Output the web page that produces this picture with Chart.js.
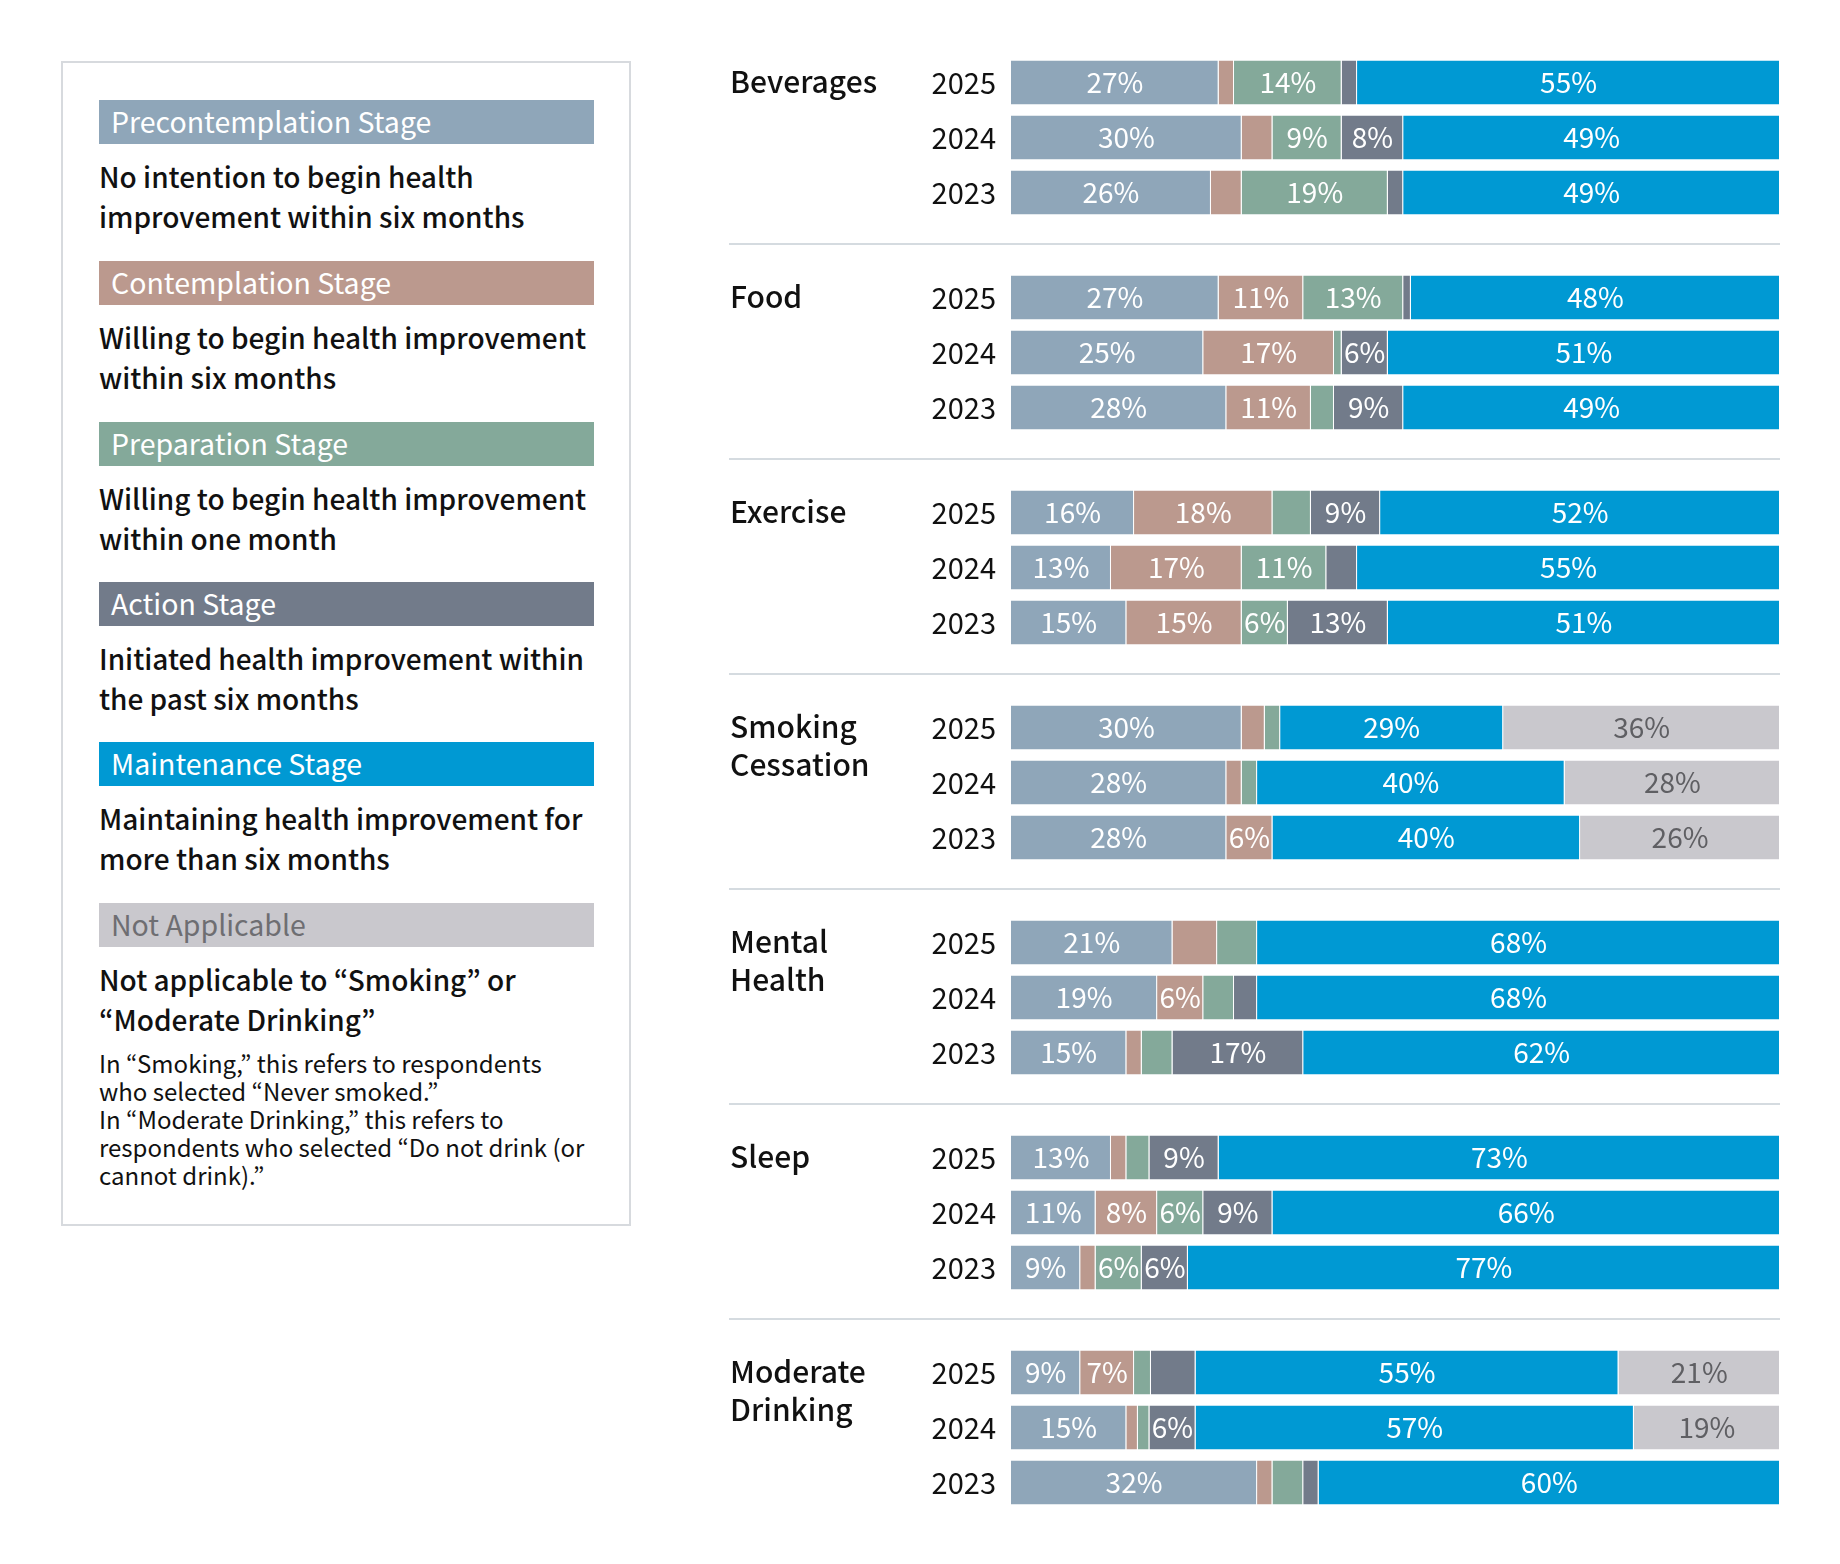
<!DOCTYPE html>
<html>
<head>
<meta charset="utf-8">
<script src="https://cdn.jsdelivr.net/npm/chart.js@4.4.1/dist/chart.umd.min.js"></script>
<style>
  html, body { margin: 0; padding: 0; background: #fff; }
  body { width: 1840px; height: 1564px; position: relative; overflow: hidden;
         font-family: "Noto Sans CJK JP", "Noto Sans", sans-serif; color: #111; }
  #legendBox { position: absolute; left: 61px; top: 61px; width: 570px; height: 1165px;
               border: 2px solid #d7dade; box-sizing: border-box; }
  .hdr { position: absolute; left: 99px; width: 495px; height: 44px; line-height: 42px;
         padding-left: 12px; box-sizing: border-box; font-size: 28.5px; color: #fff; white-space: nowrap; }
  .desc { position: absolute; left: 99px; width: 520px; font-size: 28px; line-height: 40px;
          font-weight: 500; color: #111; }
  .note { position: absolute; left: 99px; width: 520px; font-size: 24px; line-height: 28px; color: #111; }
  .cat { position: absolute; left: 730px; font-size: 30px; line-height: 38px; font-weight: 500; color: #111; }
  .sep { position: absolute; left: 729px; width: 1051px; height: 2px; background: #d5dbe0; }
  .wrap { position: absolute; left: 740px; width: 1040px; height: 165px; }
</style>
</head>
<body>
<div id="legendBox"></div>

<div class="hdr" style="top:100px;background:#8fa6b9">Precontemplation Stage</div>
<div class="desc" style="top:156px">No intention to begin health<br>improvement within six months</div>

<div class="hdr" style="top:261px;background:#bb998e">Contemplation Stage</div>
<div class="desc" style="top:317px">Willing to begin health improvement<br>within six months</div>

<div class="hdr" style="top:422px;background:#84a99a">Preparation Stage</div>
<div class="desc" style="top:478px">Willing to begin health improvement<br>within one month</div>

<div class="hdr" style="top:582px;background:#727b8a">Action Stage</div>
<div class="desc" style="top:638px">Initiated health improvement within<br>the past six months</div>

<div class="hdr" style="top:742px;background:#0099d3">Maintenance Stage</div>
<div class="desc" style="top:798px">Maintaining health improvement for<br>more than six months</div>

<div class="hdr" style="top:903px;background:#c9c8cd;color:#6e6e72">Not Applicable</div>
<div class="desc" style="top:959px">Not applicable to “Smoking” or<br>“Moderate Drinking”</div>
<div class="note" style="top:1049px">In “Smoking,” this refers to respondents<br>who selected “Never smoked.”<br>In “Moderate Drinking,” this refers to<br>respondents who selected “Do not drink (or<br>cannot drink).”</div>

<div id="charts"></div>

<script>
const categories = ['Beverages', 'Food', 'Exercise', 'Smoking\nCessation', 'Mental\nHealth', 'Sleep', 'Moderate\nDrinking'];
const years = ['2025', '2024', '2023'];
const stages = ['Precontemplation', 'Contemplation', 'Preparation', 'Action', 'Maintenance', 'Not Applicable'];
const colors = ['#8fa6b9', '#bb998e', '#84a99a', '#727b8a', '#0099d3', '#c9c8cd'];

// one row per category, values for 2025, 2024, 2023
const precontemplation = [[27, 30, 26], [27, 25, 28], [16, 13, 15], [30, 28, 28], [21, 19, 15], [13, 11, 9], [9, 15, 32]];
const contemplation    = [[2, 4, 4], [11, 17, 11], [18, 17, 15], [3, 2, 6], [5.8, 6, 2], [2, 8, 2], [7, 1.5, 2]];
const preparation      = [[14, 9, 19], [13, 1, 3], [5, 11, 6], [2, 2, 0], [5.2, 4, 4], [3, 6, 6], [2.2, 1.5, 4]];
const action           = [[2, 8, 2], [1, 6, 9], [9, 4, 13], [0, 0, 0], [0, 3, 17], [9, 9, 6], [5.8, 6, 2]];
const maintenance      = [[55, 49, 49], [48, 51, 49], [52, 55, 51], [29, 40, 40], [68, 68, 62], [73, 66, 77], [55, 57, 60]];
const notApplicable    = [[0, 0, 0], [0, 0, 0], [0, 0, 0], [36, 28, 26], [0, 0, 0], [0, 0, 0], [21, 19, 0]];

const series = [precontemplation, contemplation, preparation, action, maintenance, notApplicable];

const FONT = '"Noto Sans CJK JP", "Noto Sans", sans-serif';
Chart.defaults.font.family = FONT;

// percentage text inside each segment (small ones are left blank)
const barLabels = {
    id: 'barLabels',
    afterDatasetsDraw(chart) {
        const { ctx } = chart;
        ctx.save();
        ctx.font = '28px ' + FONT;
        ctx.textAlign = 'center';
        ctx.textBaseline = 'middle';
        chart.data.datasets.forEach((ds, i) => {
            const meta = chart.getDatasetMeta(i);
            meta.data.forEach((bar, j) => {
                const v = ds.data[j];
                if (!v || v < 6) return;
                const { x, y, base } = bar.getProps(['x', 'y', 'base'], true);
                ctx.fillStyle = i === 5 ? '#5f5f63' : '#fff';
                ctx.fillText(Math.round(v) + '%', (x + base) / 2, y);
            });
        });
        ctx.restore();
    }
};

const holder = document.getElementById('charts');

categories.forEach((cat, g) => {
    const top = 55 + 215 * g;

    const label = document.createElement('div');
    label.className = 'cat';
    label.style.top = (61 + 215 * g) + 'px';
    label.innerHTML = cat.replace('\n', '<br>');
    document.body.appendChild(label);

    if (g < categories.length - 1) {
        const sep = document.createElement('div');
        sep.className = 'sep';
        sep.style.top = (243 + 215 * g) + 'px';
        document.body.appendChild(sep);
    }

    const wrap = document.createElement('div');
    wrap.className = 'wrap';
    wrap.style.top = top + 'px';
    const cv = document.createElement('canvas');
    cv.width = 1040;
    cv.height = 165;
    wrap.appendChild(cv);
    holder.appendChild(wrap);

    new Chart(cv, {
        type: 'bar',
        data: {
            labels: years,
            datasets: stages.map((s, i) => ({
                label: s,
                data: series[i][g].map(v => v || null),
                backgroundColor: colors[i],
                borderColor: 'rgba(255,255,255,0.75)',
                borderWidth: { top: 0, bottom: 0, left: 0, right: 1 },
                borderSkipped: false,
                barPercentage: 0.8,
                categoryPercentage: 1
            }))
        },
        options: {
            indexAxis: 'y',
            responsive: false,
            animation: false,
            layout: { padding: 0 },
            plugins: {
                legend: { display: false },
                tooltip: { enabled: false }
            },
            scales: {
                x: {
                    stacked: true,
                    min: 0,
                    max: 100,
                    display: false
                },
                y: {
                    stacked: true,
                    grid: { display: false, drawTicks: false },
                    border: { display: false },
                    afterFit: (scale) => {
                        scale.width = 271;
                        scale.paddingTop = 0;
                        scale.paddingBottom = 0;
                    },
                    ticks: {
                        padding: 15,
                        color: '#111',
                        font: { size: 29 }
                    }
                }
            }
        },
        plugins: [barLabels]
    });
});
</script>
</body>
</html>
